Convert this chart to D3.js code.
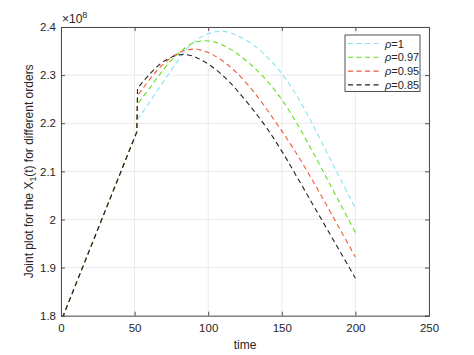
<!DOCTYPE html>
<html><head><meta charset="utf-8">
<script src="https://cdn.jsdelivr.net/npm/d3@7/dist/d3.min.js"></script>
<style>body{margin:0;background:#fff}svg{display:block}text{font-family:"Liberation Sans",Arial,sans-serif}</style>
</head><body><svg id="c" width="474" height="355"></svg>
<script>
// shared initial segment
const tShared = [1, 51.5];
const vShared = [1.796, 2.182];
// branch times
const tBranch = [52, 55, 60, 65, 70, 75, 80, 85, 90, 95, 100, 105, 110, 115, 120, 130, 140, 150, 160, 170, 180, 190, 200];
const rho1   = [2.209, 2.221, 2.243, 2.266, 2.288, 2.311, 2.333, 2.353, 2.368, 2.379, 2.386, 2.390, 2.391, 2.388, 2.382, 2.364, 2.338, 2.303, 2.258, 2.203, 2.143, 2.083, 2.023];
const rho097 = [2.240, 2.252, 2.272, 2.293, 2.313, 2.331, 2.346, 2.358, 2.367, 2.371, 2.371, 2.368, 2.362, 2.354, 2.344, 2.319, 2.288, 2.249, 2.201, 2.146, 2.089, 2.031, 1.973];
const rho095 = [2.257, 2.270, 2.290, 2.309, 2.324, 2.337, 2.346, 2.352, 2.354, 2.352, 2.347, 2.339, 2.329, 2.317, 2.303, 2.269, 2.228, 2.184, 2.137, 2.086, 2.032, 1.977, 1.922];
const rho085 = [2.2725, 2.284, 2.301, 2.317, 2.329, 2.337, 2.342, 2.3425, 2.339, 2.332, 2.323, 2.312, 2.299, 2.284, 2.267, 2.230, 2.189, 2.142, 2.090, 2.037, 1.984, 1.931, 1.878];
const seriesNames = ["=1", "=0.97", "=0.95", "=0.85"];
const seriesColors = ["#86e3f2", "#66dd1a", "#f0583a", "#222222"];
const xTicks = [0, 50, 100, 150, 200, 250];
const yTicks = [1.8, 1.9, 2.0, 2.1, 2.2, 2.3, 2.4];
const yTickLabels = ["1.8", "1.9", "2", "2.1", "2.2", "2.3", "2.4"];

const svg = d3.select("#c");
const L = 61, R = 429, T = 27, B = 315.7;
const x = d3.scaleLinear().domain([0, 250]).range([L, R]);
const y = d3.scaleLinear().domain([1.8, 2.4]).range([B, T]);

// grid
const g = svg.append("g");
g.selectAll(".gx").data(xTicks).join("line")
  .attr("x1", d => x(d)).attr("x2", d => x(d)).attr("y1", T).attr("y2", B)
  .attr("stroke", "#ebebeb").attr("stroke-width", 1);
g.selectAll(".gy").data(yTicks).join("line")
  .attr("y1", d => y(d)).attr("y2", d => y(d)).attr("x1", L).attr("x2", R)
  .attr("stroke", "#ebebeb").attr("stroke-width", 1);

svg.append("clipPath").attr("id", "clip").append("rect")
  .attr("x", L).attr("y", T).attr("width", R - L).attr("height", B - T);

const allSeries = [rho1, rho097, rho095, rho085].map((vals, i) => {
  const pre = tShared.map((t, j) => [t, vShared[j]]).concat([[tBranch[0], vals[0]]]);
  const br = tBranch.map((t, j) => [t, vals[j]]);
  return {name: seriesNames[i], color: seriesColors[i], pre, br};
});
const linLine = d3.line().x(d => x(d[0])).y(d => y(d[1]));
const curLine = d3.line().x(d => x(d[0])).y(d => y(d[1])).curve(d3.curveCatmullRom.alpha(0.5));
const pathD = d => linLine(d.pre) + curLine(d.br).replace(/^M[^C]*/, "");
svg.append("g").attr("clip-path", "url(#clip)").selectAll("path").data(allSeries).join("path")
  .attr("d", pathD).attr("fill", "none").attr("stroke", d => d.color)
  .attr("stroke-width", 1.1).attr("stroke-dasharray", "5,3.5");

// axes
const axCol = "#4d4d4d";
const xb = d3.axisBottom(x).tickValues(xTicks).tickSize(-4).tickPadding(8).tickFormat(d3.format("d"));
const xt = d3.axisTop(x).tickValues(xTicks).tickSize(-4).tickFormat("");
const yl = d3.axisLeft(y).tickValues(yTicks).tickSize(-4).tickPadding(5).tickFormat((d, i) => yTickLabels[i]);
const yr = d3.axisRight(y).tickValues(yTicks).tickSize(-4).tickFormat("");
function style(sel){
  sel.select(".domain").attr("stroke", axCol);
  sel.selectAll(".tick line").attr("stroke", axCol);
  sel.selectAll("text").attr("fill", "#262626").style("font-size", "11.5px").style("font-family", "'Liberation Sans',Arial,sans-serif");
}
svg.append("g").attr("transform", `translate(0,${B})`).call(xb).call(style);
svg.append("g").attr("transform", `translate(0,${T})`).call(xt).call(style);
svg.append("g").attr("transform", `translate(${L},0)`).call(yl).call(style);
svg.append("g").attr("transform", `translate(${R},0)`).call(yr).call(style);

// exponent
const ex = svg.append("text").attr("x", 62).attr("y", 23).attr("fill", "#262626").style("font-size", "12px");
ex.append("tspan").text("\u00d710");
ex.append("tspan").attr("dy", -5).style("font-size", "9px").text("8");

// axis labels
svg.append("text").attr("x", (L + R) / 2).attr("y", 349).attr("text-anchor", "middle")
  .attr("fill", "#262626").style("font-size", "12px").text("time");
const yt = svg.append("text").attr("transform", `translate(33,${(T + B) / 2}) rotate(-90)`)
  .attr("text-anchor", "middle").attr("fill", "#262626").style("font-size", "12px");
yt.append("tspan").text("Joint plot for the X");
yt.append("tspan").attr("dy", 3).style("font-size", "8.5px").text("1");
yt.append("tspan").attr("dy", -3).text("(t) for different orders");

// legend
const lg = svg.append("g");
lg.append("rect").attr("x", 345).attr("y", 35).attr("width", 75).attr("height", 56.5)
  .attr("fill", "#fff").attr("stroke", "#262626").attr("stroke-width", 0.8);
const rows = lg.selectAll("g.row").data(allSeries).join("g")
  .attr("transform", (d, i) => `translate(0,${43.5 + i * 13.8})`);
rows.append("line").attr("x1", 348).attr("x2", 382).attr("y1", 0).attr("y2", 0)
  .attr("stroke", d => d.color).attr("stroke-width", 1.1).attr("stroke-dasharray", "5,3.5");
const lt = rows.append("text").attr("x", 385).attr("y", 4).attr("fill", "#262626").style("font-size", "11px");
lt.append("tspan").style("font-style", "italic").text("\u03c1");
lt.append("tspan").text(d => d.name);
</script></body></html>
